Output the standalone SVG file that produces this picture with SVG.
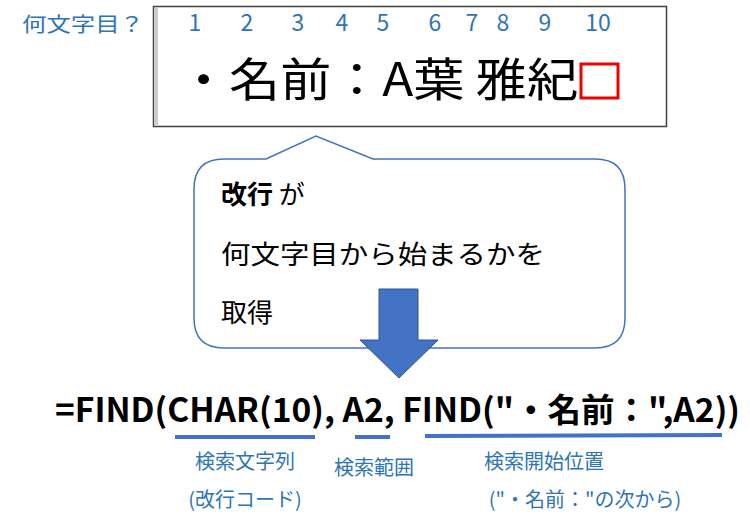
<svg xmlns="http://www.w3.org/2000/svg" width="750" height="521" viewBox="0 0 750 521">
<style>
.b{fill:#2E75B6;font-family:"Noto Sans CJK JP","Liberation Sans",sans-serif}
.k{fill:#000;font-family:"Noto Sans CJK JP","Liberation Sans",sans-serif}
.ul{stroke:#4472C4;stroke-width:4}
</style>
<rect width="750" height="521" fill="#fff"/>
<g id="cell">
<rect x="153.5" y="6.5" width="513" height="120" fill="#fff" stroke="#404040" stroke-width="1.5"/>
<rect x="155" y="8" width="3" height="117" fill="#ccc"/>
<text class="b" x="22" y="32" font-size="20" textLength="122" lengthAdjust="spacingAndGlyphs">何文字目？</text>
<g class="b" font-size="23" text-anchor="middle">
<text x="195" y="31">1</text><text x="247" y="31">2</text><text x="298" y="31">3</text><text x="342" y="31">4</text><text x="383" y="31">5</text><text x="435" y="31">6</text><text x="472" y="31">7</text><text x="503" y="31">8</text><text x="545" y="31">9</text><text x="598" y="31">10</text>
</g>
<text class="k" x="178" y="96" font-size="46" textLength="400" lengthAdjust="spacingAndGlyphs">・名前：A葉 雅紀</text>
<rect x="581" y="64" width="37" height="34" fill="none" stroke="#E00" stroke-width="3"/>
</g>
<g id="callout">
<path d="M224,159 L266,159 L316,136 L373,159 L595,159 Q625,159 625,189 L625,318 Q625,348 595,348 L224,348 Q194,348 194,318 L194,189 Q194,159 224,159 Z" fill="#fff" stroke="#4472C4" stroke-width="1.5"/>
<text class="k" x="221" y="204" font-size="26"><tspan font-weight="bold">改行</tspan> が</text>
<text class="k" x="221" y="264" font-size="26" textLength="324" lengthAdjust="spacingAndGlyphs">何文字目から始まるかを</text>
<text class="k" x="221" y="322" font-size="26">取得</text>
</g>
<g id="arrow">
<path d="M379,289 L418,289 L418,340 L438,340 L399,378 L360,340 L379,340 Z" fill="#4472C4" stroke="#2F528F" stroke-width="1"/>
</g>
<g id="formula">
<text class="k" x="55" y="422" font-size="33" font-weight="bold" textLength="685" lengthAdjust="spacingAndGlyphs">=FIND(CHAR(10), A2, FIND("・名前：",A2))</text>
</g>
<g id="connectors">
<line class="ul" x1="175" y1="437" x2="315" y2="437"/>
<line class="ul" x1="355" y1="437" x2="390" y2="437"/>
<line class="ul" x1="425" y1="436" x2="722" y2="435"/>
</g>
<g id="labels" font-size="20">
<text class="b" x="245" y="469" text-anchor="middle">検索文字列</text>
<text class="b" x="374" y="475" text-anchor="middle">検索範囲</text>
<text class="b" x="544" y="469" text-anchor="middle">検索開始位置</text>
<text class="b" x="245" y="507" text-anchor="middle">(改行コード)</text>
<text class="b" x="585" y="507" text-anchor="middle">("・名前："の次から)</text>
</g>
</svg>
